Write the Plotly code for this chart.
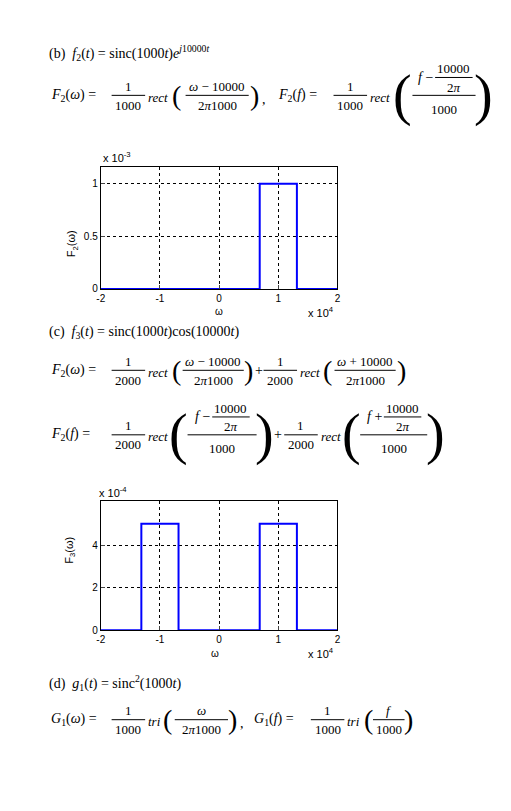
import numpy as np
import plotly.graph_objects as go

W, H = 511, 811

# data
omega_b = [-20000, 6858, 6858, 13142, 13142, 20000]
F2_vals = [0, 0, 1e-3, 1e-3, 0, 0]
omega_c = [-20000, -13142, -13142, -6858, -6858, 6858, 6858, 13142, 13142, 20000]
F3_vals = [0, 0, 5e-4, 5e-4, 0, 0, 5e-4, 5e-4, 0, 0]
x_ticks = [-20000, -10000, 0, 10000, 20000]
x_tick_text = ["-2", "-1", "0", "1", "2"]

fig = go.Figure()
fig.add_trace(go.Scatter(x=omega_b, y=F2_vals, mode="lines",
                         line=dict(color="#0000ff", width=2), xaxis="x", yaxis="y"))
fig.add_trace(go.Scatter(x=omega_c, y=F3_vals, mode="lines",
                         line=dict(color="#0000ff", width=2), xaxis="x2", yaxis="y2"))

ax = dict(showline=True, mirror=True, linecolor="black", linewidth=1, ticks="inside",
          ticklen=4, showgrid=True, gridcolor="black", griddash="dot", gridwidth=1,
          zeroline=False, tickfont=dict(family="Liberation Sans", size=10, color="black"))
fig.update_layout(
    width=W, height=H, margin=dict(l=0, r=0, t=0, b=0),
    paper_bgcolor="white", plot_bgcolor="white", showlegend=False,
    xaxis=dict(ax, domain=[90/W, 330/W], range=[-20000, 20000], tickvals=x_ticks,
               ticktext=x_tick_text, anchor="y", ticklabelstandoff=0),
    yaxis=dict(ax, domain=[1-283/H, 1-160/H], range=[0, 1.16e-3],
               tickvals=[0, 5e-4, 1e-3], ticktext=["0", "0.5", "1"], anchor="x"),
    xaxis2=dict(ax, domain=[90/W, 330/W], range=[-20000, 20000], tickvals=x_ticks,
                ticktext=x_tick_text, anchor="y2", ticklabelstandoff=0),
    yaxis2=dict(ax, domain=[1-627/H, 1-497/H], range=[0, 6.05e-4],
                tickvals=[0, 2e-4, 4e-4], ticktext=["0", "2", "4"], anchor="x2"),
)

SERIF = "Liberation Serif"
ann = []
shapes = []


def txt(x, y, s, size=14, anchor="left", fam=SERIF):
    ann.append(dict(x=x/W, y=1-y/H, xref="paper", yref="paper", text=s, showarrow=False,
                    xanchor=anchor, yanchor="middle", font=dict(family=fam, size=size, color="black")))


def hline(x0, x1, y):
    shapes.append(dict(type="line", xref="paper", yref="paper", x0=x0/W, x1=x1/W,
                       y0=1-y/H, y1=1-y/H, line=dict(color="black", width=1)))


def frac(xc, y, num, den, w, size=13):
    hline(xc-w/2, xc+w/2, y)
    txt(xc, y-9, num, size, "center")
    txt(xc, y+10, den, size, "center")


def paren(x, y, s, size=28):
    txt(x, y, s, size, "center")


# (b)
txt(35, 45, "(b)  <i>f</i><sub>2</sub>(<i>t</i>) = sinc(1000<i>t</i>)<i>e</i><sup><i>j</i>10000<i>t</i></sup>")
txt(38, 88, "<i>F</i><sub>2</sub>(<i>ω</i>) =")
frac(118, 88, "1", "1000", 34)
txt(136, 90, "<i>rect</i>", 13)
paren(167, 88, "(")
frac(208, 88, "<i>ω</i> − 10000", "2<i>π</i>1000", 64)
paren(246, 88, ")")
txt(251, 92, ",")
txt(268, 88, "<i>F</i><sub>2</sub>(<i>f</i>) =")
frac(343, 88, "1", "1000", 34)
txt(361, 90, "<i>rect</i>", 13)
paren(396, 88, "(", 56)
hline(406, 470, 88)
txt(410, 70, "<i>f</i> −")
frac(448, 70, "10000", "2<i>π</i>", 38)
txt(438, 102, "1000", 13, "center")
paren(478, 88, ")", 56)

# plot 1 labels
txt(90, 150, "x 10<sup>-3</sup>", 11, "left", "Liberation Sans")
txt(298, 306, "x 10<sup>4</sup>", 11, "left", "Liberation Sans")
txt(210, 306, "ω", 10, "center", "Liberation Sans")
ann.append(dict(x=52/W, y=1-222/H, xref="paper", yref="paper", text="F<sub>2</sub>(ω)",
                showarrow=False, textangle=-90, font=dict(family="Liberation Sans", size=11, color="black")))

# (c)
txt(35, 327, "(c)  <i>f</i><sub>3</sub>(<i>t</i>) = sinc(1000<i>t</i>)cos(10000<i>t</i>)")
txt(38, 365, "<i>F</i><sub>2</sub>(<i>ω</i>) =")
frac(118, 365, "1", "2000", 34)
txt(136, 367, "<i>rect</i>", 13)
paren(167, 365, "(")
frac(204, 365, "<i>ω</i> − 10000", "2<i>π</i>1000", 62)
paren(240, 365, ")")
txt(244, 365, "+")
frac(272, 365, "1", "2000", 34)
txt(290, 367, "<i>rect</i>", 13)
paren(320, 365, "(")
frac(358, 365, "<i>ω</i> + 10000", "2<i>π</i>1000", 62)
paren(395, 365, ")")

txt(38, 430, "<i>F</i><sub>2</sub>(<i>f</i>) =")
frac(118, 430, "1", "2000", 34)
txt(136, 432, "<i>rect</i>", 13)
paren(169, 430, "(", 56)
hline(178, 248, 430)
txt(184, 412, "<i>f</i> −")
frac(222, 412, "10000", "2<i>π</i>", 38)
txt(213, 444, "1000", 13, "center")
paren(256, 430, ")", 56)
txt(264, 430, "+")
frac(293, 430, "1", "2000", 34)
txt(311, 432, "<i>rect</i>", 13)
paren(344, 430, "(", 56)
hline(353, 421, 430)
txt(358, 412, "<i>f</i> +")
frac(396, 412, "10000", "2<i>π</i>", 38)
txt(387, 444, "1000", 13, "center")
paren(429, 430, ")", 56)

# plot 2 labels
txt(86, 488, "x 10<sup>-4</sup>", 11, "left", "Liberation Sans")
txt(298, 650, "x 10<sup>4</sup>", 11, "left", "Liberation Sans")
txt(206, 650, "ω", 10, "center", "Liberation Sans")
ann.append(dict(x=50/W, y=1-562/H, xref="paper", yref="paper", text="F<sub>3</sub>(ω)",
                showarrow=False, textangle=-90, font=dict(family="Liberation Sans", size=11, color="black")))

# (d)
txt(35, 680, "(d)  <i>g</i><sub>1</sub>(<i>t</i>) = sinc<sup>2</sup>(1000<i>t</i>)")
txt(38, 717, "<i>G</i><sub>1</sub>(<i>ω</i>) =")
frac(118, 717, "1", "1000", 34)
txt(136, 719, "<i>tri</i>", 13)
paren(158, 717, "(")
frac(192, 717, "<i>ω</i>", "2<i>π</i>1000", 54)
paren(224, 717, ")")
txt(229, 721, ",")
txt(243, 717, "<i>G</i><sub>1</sub>(<i>f</i>) =")
frac(320, 717, "1", "1000", 34)
txt(338, 719, "<i>tri</i>", 13)
paren(361, 717, "(")
frac(382, 717, "<i>f</i>", "1000", 32)
paren(402, 717, ")")

fig.update_layout(annotations=ann, shapes=shapes)
fig.write_html("out.html")
